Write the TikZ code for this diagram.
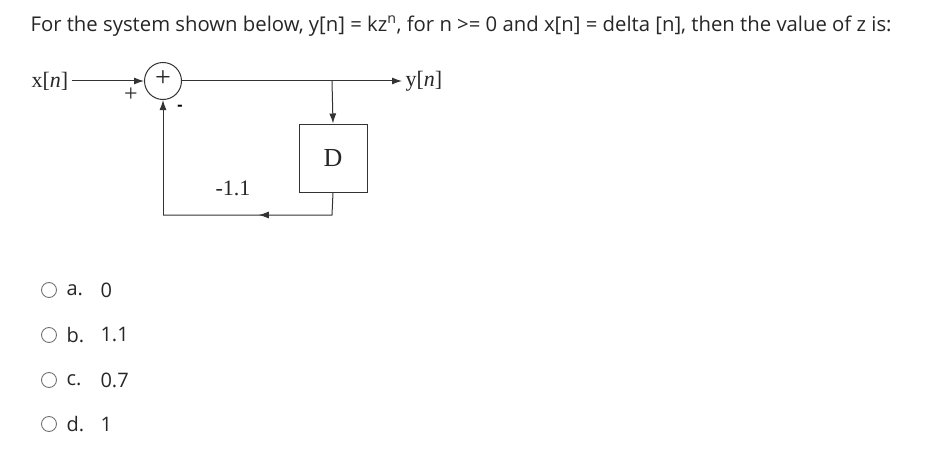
\documentclass[tikz,border=0pt]{standalone}
\usepackage{fontspec}
\setmainfont{Open Sans}
\newfontfamily\dfont{Liberation Serif}
\usetikzlibrary{arrows.meta,decorations.markings}
\begin{document}
\begin{tikzpicture}[x=1pt,y=-1pt,
  wire/.style={line width=1pt,draw=black!80},
  arr/.style={wire,-{Latex[length=10pt,width=7pt]}},
  dtext/.style={font=\dfont\fontsize{22}{24}\selectfont,text=black!85},
  qtext/.style={font=\fontsize{20}{24}\selectfont,text=black!85,anchor=west},
  radio/.style={circle,draw=black!55,line width=0.9pt,minimum size=15pt,inner sep=0pt}]
\useasboundingbox (0,0) rectangle (935,452);
\node[qtext,font=\fontsize{20.3}{24}\selectfont] (q) at (27,26) {For the system shown below, y[n] = kz\textsuperscript{n}, for n >= 0 and x[n] = delta [n], then the value of z is:};
\node[dtext,anchor=west] (x) at (28,81) {x[\textit{n}]};
\node[circle,draw=black!80,line width=1pt,minimum size=37pt,inner sep=0pt] (s) at (163,81) {};
\node[dtext,font=\dfont\fontsize{28}{28}\selectfont] (plus) at (163,79) {+};
\node[dtext,anchor=west] (y) at (402,81) {y[\textit{n}]};
\node[draw=black!80,line width=1pt,minimum width=68pt,minimum height=68pt] (D) at (333,158) {};
\node[dtext,font=\dfont\fontsize{26}{26}\selectfont] (Dl) at (333,158) {D};
\node[dtext] (g) at (233,188) {-1.1};
\node[dtext,font=\dfont\fontsize{24}{24}\selectfont] (pp) at (131,95) {+};
\node[font=\bfseries\fontsize{16}{16}\selectfont] (mm) at (180,108) {-};
\coordinate (br) at (332,81);
\coordinate (c1) at (332,215);
\coordinate (c2) at (163,215);
\draw[arr] (x.east) -- (s.west);
\draw[arr] (s.east) -- (y.west);
\draw[arr] (br) -- (D.north);
\draw[wire,postaction={decorate},decoration={markings,mark=at position 0.5 with {\arrow{Latex[length=10pt,width=7pt]}}}] (D.south) -- (c1) -- (c2);
\draw[arr] (c2) -- (s.south);
\foreach \y/\l/\v in {290/a./0,335/b./1.1,380/c./0.7,424/d./1}{
  \node[radio] (r\l) at (49,\y) {};
  \node[qtext] (l\l) at (63,\y) {\l};
  \node[qtext] (v\l) at (97,\y) {\v};
}
\end{tikzpicture}
\end{document}
